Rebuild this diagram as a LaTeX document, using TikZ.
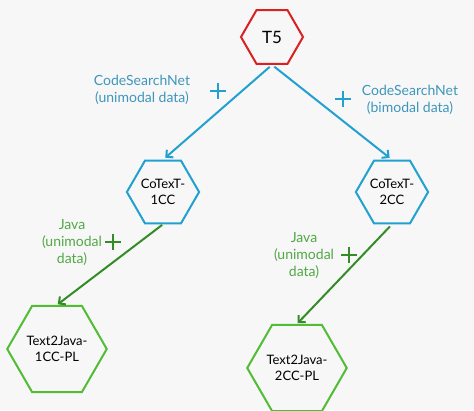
\documentclass[tikz,border=0pt]{standalone}
\usepackage{fontspec}
\setmainfont{Lato}
\usetikzlibrary{shapes.geometric,arrows.meta}
\definecolor{hexred}{RGB}{218,32,32}
\definecolor{csblue}{RGB}{34,160,208}
\definecolor{cstext}{RGB}{62,150,188}
\definecolor{jvline}{RGB}{52,140,40}
\definecolor{jvhex}{RGB}{82,188,52}
\definecolor{jvtext}{RGB}{82,168,70}
\begin{document}
\begin{tikzpicture}[x=1pt,y=-1pt,
  every node/.style={font=\fontsize{13}{16}\selectfont},
  hexa/.style={regular polygon,regular polygon sides=6,line width=2pt,inner sep=0pt,align=center},
  lbl/.style={align=center,font=\fontsize{14}{17}\selectfont},
  link/.style={line width=2pt,-{Straight Barb[length=5pt,width=10pt]}},
  plusmark/.style={line width=1.8pt}]
 \fill[black!3] (0,0) rectangle (474,410);
 \useasboundingbox (0,0) rectangle (474,410);
 % models
 \node[hexa,draw=hexred,minimum size=62pt,font=\fontsize{17}{20}\selectfont] (t5) at (272,37) {T5};
 \node[hexa,draw=csblue,minimum size=72pt] (cotext1) at (163,192) {CoTexT-\\1CC};
 \node[hexa,draw=csblue,minimum size=72pt] (cotext2) at (392,192) {CoTexT-\\2CC};
 \node[hexa,draw=jvhex,minimum size=79pt] (javaone) at (57,349) {Text2Java-\\1CC-PL};
 \node[hexa,draw=jvhex,minimum size=79pt] (javatwo) at (297,368) {Text2Java-\\2CC-PL};
 % pre-training steps
 \draw[link,csblue,shorten <=3pt,shorten >=3pt] (t5.south) -- (cotext1.north);
 \draw[link,csblue,shorten <=3pt,shorten >=3pt] (t5.south) -- (cotext2.north);
 \draw[link,jvline,shorten <=1pt,shorten >=1pt] (cotext1.south) -- (javaone.north);
 \draw[link,jvline,shorten <=3pt,shorten >=1pt] (cotext2.south) -- (javatwo.north);
 % data labels
 \node[lbl,cstext] (csnuni) at (142,90) {CodeSearchNet\\(unimodal data)};
 \node[lbl,cstext] (csnbi) at (410,100) {CodeSearchNet\\(bimodal data)};
 \node[lbl,jvtext] (javauni1) at (72,243) {Java\\(unimodal\\data)};
 \node[lbl,jvtext] (javauni2) at (304,256) {Java\\(unimodal\\data)};
 \draw[plusmark,csblue] (218,91) +(-8,0) -- +(8,0) +(0,-8) -- +(0,8);
 \draw[plusmark,csblue] (343,99) +(-8,0) -- +(8,0) +(0,-8) -- +(0,8);
 \draw[plusmark,jvline] (113,242) +(-8,0) -- +(8,0) +(0,-8) -- +(0,8);
 \draw[plusmark,jvline] (349,255) +(-8,0) -- +(8,0) +(0,-8) -- +(0,8);
\end{tikzpicture}
\end{document}
